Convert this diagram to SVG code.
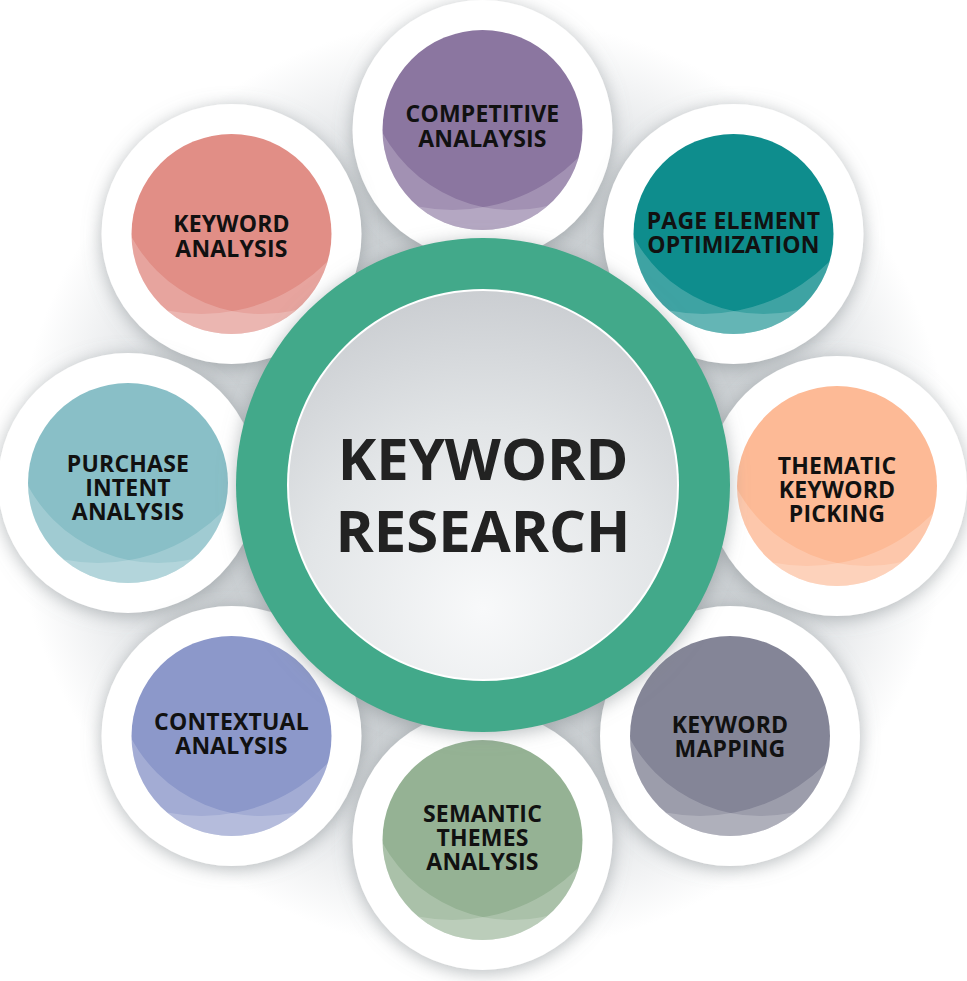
<svg xmlns="http://www.w3.org/2000/svg" width="967" height="981" viewBox="0 0 967 981">
<defs>
<style>
.lbl{font-family:"Open Sans","Noto Sans","Liberation Sans",sans-serif;font-weight:700;font-size:23px;letter-spacing:0.2px;fill:#111111;text-anchor:middle}
.big{font-family:"Open Sans","Noto Sans","Liberation Sans",sans-serif;font-weight:700;font-size:58px;fill:#222222;text-anchor:middle}
.plate{fill:#ffffff;filter:url(#sh)}
.veil{fill:#ffffff;fill-opacity:0.2;fill-rule:evenodd;clip-path:url(#nodeClip)}
</style>
<clipPath id="nodeClip" clipPathUnits="userSpaceOnUse"><circle cx="0" cy="0" r="100"/></clipPath>
<filter id="sh" x="-40%" y="-40%" width="180%" height="180%">
<feGaussianBlur in="SourceAlpha" stdDeviation="9"/>
<feOffset dx="0" dy="3" result="b"/>
<feFlood flood-color="#7d8589" flood-opacity="0.55"/>
<feComposite in2="b" operator="in"/>
<feMerge><feMergeNode/><feMergeNode in="SourceGraphic"/></feMerge>
</filter>
<radialGradient id="haze" cx="483" cy="485" r="470" gradientUnits="userSpaceOnUse">
<stop offset="0" stop-color="#c2c7ca"/>
<stop offset="0.62" stop-color="#cdd1d4"/>
<stop offset="0.8" stop-color="#e6e8ea"/>
<stop offset="1" stop-color="#ffffff"/>
</radialGradient>
<radialGradient id="core" cx="0.5" cy="0.82" r="0.85" fx="0.5" fy="0.82">
<stop offset="0" stop-color="#f8f9fa"/>
<stop offset="0.55" stop-color="#e2e5e7"/>
<stop offset="1" stop-color="#c9ccd0"/>
</radialGradient>
<path id="veilA" d="M-110,-110H110V110H-110Z M-118,-68a148,148 0 1 0 296,0a148,148 0 1 0 -296,0Z"/>
<path id="veilB" d="M-110,-110H110V110H-110Z M-207,-97a177,177 0 1 0 354,0a177,177 0 1 0 -354,0Z"/>
</defs>
<rect width="967" height="981" fill="#ffffff"/>
<circle cx="483" cy="485" r="470" fill="url(#haze)"/>
<g id="connectors"/>
<g id="competitive-analysis" transform="translate(482.5,130)">
<circle class="plate" r="130"/>
<circle r="100" fill="#8B76A0"/>
<use href="#veilA" class="veil"/><use href="#veilB" class="veil"/>
<text class="lbl" y="-8">COMPETITIVE</text>
<text class="lbl" y="17">ANALAYSIS</text>
</g>
<g id="keyword-analysis" transform="translate(231.5,234)">
<circle class="plate" r="130"/>
<circle r="100" fill="#E18E86"/>
<use href="#veilA" class="veil"/><use href="#veilB" class="veil"/>
<text class="lbl" y="-2">KEYWORD</text>
<text class="lbl" y="23">ANALYSIS</text>
</g>
<g id="page-element-optimization" transform="translate(733.5,234)">
<circle class="plate" r="130"/>
<circle r="100" fill="#0E8D8D"/>
<use href="#veilA" class="veil"/><use href="#veilB" class="veil"/>
<text class="lbl" y="-5">PAGE ELEMENT</text>
<text class="lbl" y="19">OPTIMIZATION</text>
</g>
<g id="purchase-intent-analysis" transform="translate(128,483)">
<circle class="plate" r="130"/>
<circle r="100" fill="#89BFC7"/>
<use href="#veilA" class="veil"/><use href="#veilB" class="veil"/>
<text class="lbl" y="-11">PURCHASE</text>
<text class="lbl" y="13">INTENT</text>
<text class="lbl" y="37">ANALYSIS</text>
</g>
<g id="thematic-keyword-picking" transform="translate(837,486)">
<circle class="plate" r="130"/>
<circle r="100" fill="#FDBA96"/>
<use href="#veilA" class="veil"/><use href="#veilB" class="veil"/>
<text class="lbl" y="-12">THEMATIC</text>
<text class="lbl" y="12">KEYWORD</text>
<text class="lbl" y="36">PICKING</text>
</g>
<g id="contextual-analysis" transform="translate(231.5,736)">
<circle class="plate" r="130"/>
<circle r="100" fill="#8C98CA"/>
<use href="#veilA" class="veil"/><use href="#veilB" class="veil"/>
<text class="lbl" y="-6">CONTEXTUAL</text>
<text class="lbl" y="18">ANALYSIS</text>
</g>
<g id="keyword-mapping" transform="translate(730,736)">
<circle class="plate" r="130"/>
<circle r="100" fill="#848597"/>
<use href="#veilA" class="veil"/><use href="#veilB" class="veil"/>
<text class="lbl" y="-3">KEYWORD</text>
<text class="lbl" y="21">MAPPING</text>
</g>
<g id="semantic-themes-analysis" transform="translate(482.5,840)">
<circle class="plate" r="130"/>
<circle r="100" fill="#95B294"/>
<use href="#veilA" class="veil"/><use href="#veilB" class="veil"/>
<text class="lbl" y="-18">SEMANTIC</text>
<text class="lbl" y="6">THEMES</text>
<text class="lbl" y="30">ANALYSIS</text>
</g>
<g id="keyword-research" transform="translate(483,485)">
<circle r="247" fill="#42A98A" filter="url(#sh)"/>
<circle r="196" fill="#ffffff"/>
<circle r="194" fill="url(#core)"/>
<text class="big" y="-5">KEYWORD</text>
<text class="big" y="67">RESEARCH</text>
</g>
</svg>
